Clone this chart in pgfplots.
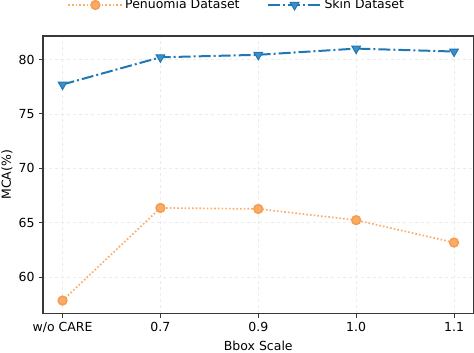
\documentclass[border=0pt]{standalone}
\usepackage{pgfplots}
\pgfplotsset{compat=1.18}
\usepackage{fontspec}
\setmainfont{DejaVu Sans}
\definecolor{cor}{RGB}{252,172,100}
\definecolor{corE}{RGB}{246,158,84}
\definecolor{cbl}{RGB}{31,119,180}
\definecolor{cblF}{RGB}{62,142,200}
\definecolor{frm}{RGB}{56,56,56}
\begin{document}
\fontsize{12.5}{15}\selectfont
\begin{tikzpicture}
\begin{axis}[name=ax, scale only axis, width=431pt, height=278pt,
 xmin=-0.2, xmax=4.2, ymin=56.64, ymax=82.16,
 xtick={0,1,2,3,4}, xticklabels={w/o CARE,0.7,0.9,1.0,1.1},
 ytick={60,65,70,75,80},
 /pgf/number format/assume math mode=true,
 tick label style={font=\fontsize{12.5}{15}\selectfont, text=black},
 label style={font=\fontsize{12.5}{15}\selectfont},
 axis line style={frm, line width=1.3pt},
 tick style={frm, line width=1pt},
 tick align=outside, major tick length=4pt,
 xtick pos=bottom, ytick pos=left,
 grid=major, grid style={black!8, dashed, line width=0.6pt},
 xlabel={Bbox Scale}, ylabel={MCA(\%)},
 xlabel style={at={(axis description cs:0.5,-0.132)}, anchor=base},
 ylabel style={at={(axis description cs:-0.0835,0.5)}, anchor=center},
 legend columns=2,
 legend style={draw=none, fill=none, at={(0.450,1.1115)}, anchor=center,
   font=\fontsize{12.5}{15}\selectfont,
   /tikz/every even column/.style={column sep=25pt}},
 legend image code/.code={\draw[mark repeat=2,mark phase=2,#1] plot coordinates {(0pt,0pt) (27pt,0pt) (54pt,0pt)};},
]
\addplot[color=cor, line width=1.7pt, dash pattern=on 1.6pt off 2.1pt,
  mark=*, mark size=4.3pt, mark options={solid, fill=cor, draw=corE}]
  coordinates {(0,57.85)(1,66.36)(2,66.27)(3,65.24)(4,63.18)};
\addlegendentry{Penuomia Dataset}
\addplot[color=cbl, line width=2pt, dash pattern=on 12pt off 3pt on 2pt off 3pt,
  mark=triangle*, mark size=5pt, mark options={solid, rotate=180, fill=cblF, draw=cbl, line width=1pt}]
  coordinates {(0,77.7)(1,80.2)(2,80.43)(3,81.0)(4,80.73)};
\addlegendentry{Skin Dataset}
\end{axis}
\pgfresetboundingbox
\path ([xshift=-43pt,yshift=-39pt]ax.south west) rectangle ([xshift=0.4pt,yshift=36pt]ax.north east);
\end{tikzpicture}
\end{document}
